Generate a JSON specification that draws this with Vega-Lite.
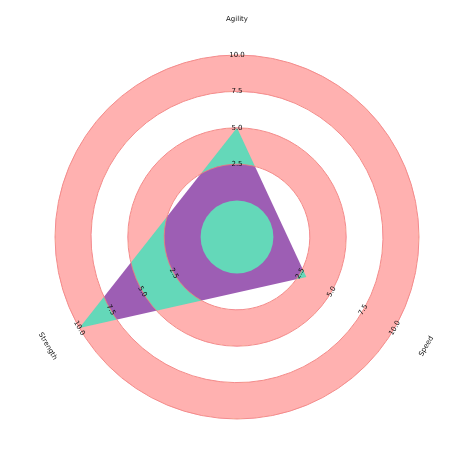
{
  "$schema": "https://vega.github.io/schema/vega-lite/v6.json",
  "width": 474,
  "height": 474,
  "autosize": {"type": "fit", "contains": "padding"},
  "padding": 0,
  "background": "white",
  "config": {"view": {"stroke": null}, "font": "DejaVu Sans"},
  "datasets": {
    "rings": [
      {"inner": 7.5, "outer": 10},
      {"inner": 2.5, "outer": 5},
      {"inner": -2.5, "outer": 0}
    ],
    "scores": [
      {"axis": "Agility", "value": 5},
      {"axis": "Strength", "value": 10},
      {"axis": "Speed", "value": 3}
    ],
    "ticks": [
      {"axis": "Agility", "value": 2.5},
      {"axis": "Agility", "value": 5},
      {"axis": "Agility", "value": 7.5},
      {"axis": "Agility", "value": 10},
      {"axis": "Strength", "value": 2.5},
      {"axis": "Strength", "value": 5},
      {"axis": "Strength", "value": 7.5},
      {"axis": "Strength", "value": 10},
      {"axis": "Speed", "value": 2.5},
      {"axis": "Speed", "value": 5},
      {"axis": "Speed", "value": 7.5},
      {"axis": "Speed", "value": 10}
    ],
    "names": [
      {"axis": "Agility"},
      {"axis": "Strength"},
      {"axis": "Speed"}
    ]
  },
  "layer": [
    {
      "data": {"name": "rings"},
      "mark": {"type": "arc", "theta": 0, "theta2": 6.3, "fill": "#ff4dab", "strokeWidth": 0},
      "encoding": {
        "radius": {"field": "outer", "type": "quantitative", "scale": {"type": "linear", "domain": [-2.5, 10], "range": [0, 182], "zero": false}},
        "radius2": {"field": "inner"}
      }
    },
    {
      "data": {"name": "scores"},
      "transform": [
        {"calculate": "datum.axis === 'Agility' ? PI / 2 : (datum.axis === 'Strength' ? 7 * PI / 6 : -PI / 6)", "as": "ang"},
        {"calculate": "(datum.value + 2.5) * cos(datum.ang)", "as": "px"},
        {"calculate": "(datum.value + 2.5) * sin(datum.ang)", "as": "py"}
      ],
      "mark": {"type": "line", "interpolate": "linear-closed", "fill": "#9d5eb4", "stroke": "#9d5eb4", "strokeWidth": 0},
      "encoding": {
        "x": {"field": "px", "type": "quantitative", "scale": {"domain": [-16.277, 16.277]}, "axis": null},
        "y": {"field": "py", "type": "quantitative", "scale": {"domain": [-16.277, 16.277]}, "axis": null}
      }
    },
    {
      "data": {"name": "rings"},
      "mark": {"type": "arc", "theta": 0, "theta2": 6.3, "fill": "#009007", "strokeWidth": 0, "blend": "color-dodge"},
      "encoding": {
        "radius": {"field": "outer", "type": "quantitative", "scale": {"type": "linear", "domain": [-2.5, 10], "range": [0, 182], "zero": false}},
        "radius2": {"field": "inner"}
      }
    },
    {
      "data": {"name": "rings"},
      "mark": {"type": "arc", "theta": 0, "theta2": 6.3, "fill": "#a1ffff", "strokeWidth": 0, "blend": "color-burn"},
      "encoding": {
        "radius": {"field": "outer", "type": "quantitative", "scale": {"type": "linear", "domain": [-2.5, 10], "range": [0, 182], "zero": false}},
        "radius2": {"field": "inner"}
      }
    },
    {
      "data": {"name": "rings"},
      "transform": [{"filter": "datum.inner >= 0"}],
      "mark": {"type": "arc", "theta": 0, "theta2": 6.3, "fill": null, "stroke": "#f07a7a", "strokeWidth": 0.8},
      "encoding": {
        "radius": {"field": "outer", "type": "quantitative", "scale": {"type": "linear", "domain": [-2.5, 10], "range": [0, 182], "zero": false}},
        "radius2": {"field": "inner"}
      }
    },
    {
      "data": {"name": "ticks"},
      "transform": [
        {"calculate": "datum.axis === 'Agility' ? PI / 2 : (datum.axis === 'Strength' ? 7 * PI / 6 : -PI / 6)", "as": "ang"},
        {"calculate": "datum.axis === 'Agility' ? 0 : (datum.axis === 'Strength' ? 60 : 300)", "as": "rot"},
        {"calculate": "(datum.value + 2.5) * cos(datum.ang)", "as": "px"},
        {"calculate": "(datum.value + 2.5) * sin(datum.ang)", "as": "py"}
      ],
      "mark": {"type": "text", "fontSize": 7, "color": "#111111", "align": "center", "baseline": "middle"},
      "encoding": {
        "x": {"field": "px", "type": "quantitative", "scale": {"domain": [-16.277, 16.277]}, "axis": null},
        "y": {"field": "py", "type": "quantitative", "scale": {"domain": [-16.277, 16.277]}, "axis": null},
        "angle": {"field": "rot", "type": "quantitative", "scale": null},
        "text": {"field": "value", "type": "quantitative", "format": ".1f"}
      }
    },
    {
      "data": {"name": "names"},
      "transform": [
        {"calculate": "datum.axis === 'Agility' ? PI / 2 : (datum.axis === 'Strength' ? 7 * PI / 6 : -PI / 6)", "as": "ang"},
        {"calculate": "datum.axis === 'Agility' ? 0 : (datum.axis === 'Strength' ? 60 : 300)", "as": "rot"},
        {"calculate": "15 * cos(datum.ang)", "as": "px"},
        {"calculate": "15 * sin(datum.ang)", "as": "py"}
      ],
      "mark": {"type": "text", "fontSize": 7, "color": "#111111", "align": "center", "baseline": "middle"},
      "encoding": {
        "x": {"field": "px", "type": "quantitative", "scale": {"domain": [-16.277, 16.277]}, "axis": null},
        "y": {"field": "py", "type": "quantitative", "scale": {"domain": [-16.277, 16.277]}, "axis": null},
        "angle": {"field": "rot", "type": "quantitative", "scale": null},
        "text": {"field": "axis", "type": "nominal"}
      }
    }
  ]
}
